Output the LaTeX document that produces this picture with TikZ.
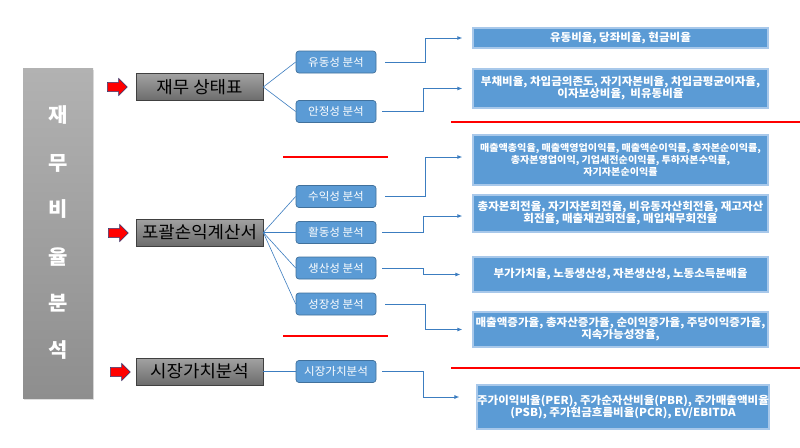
\documentclass[tikz,border=0pt]{standalone}
\usepackage{fontspec}
\setmainfont{Noto Sans CJK KR}[FakeStretch=1.05]
\usetikzlibrary{shapes.arrows,shadows,arrows.meta}
\definecolor{boxblue}{HTML}{5B9BD5}
\definecolor{boxedge}{HTML}{41719C}
\definecolor{lineblue}{HTML}{3C7DC0}
\definecolor{glow}{HTML}{A8C8EA}
\definecolor{arredge}{HTML}{2A3F7A}
\definecolor{bartop}{HTML}{B2B2B2}
\definecolor{barbot}{HTML}{8E8E8E}
\definecolor{gtop}{HTML}{A2A2A2}
\definecolor{gbot}{HTML}{6C6C6C}
\begin{document}
\begin{tikzpicture}[x=1pt,y=-1pt,
  bar/.style={draw=none,top color=bartop,bottom color=barbot,minimum width=70pt,minimum height=330pt,inner sep=0pt,
    drop shadow={opacity=0.25,shadow xshift=1pt,shadow yshift=-1.5pt}},
  barletter/.style={text=white,font=\fontsize{20}{22}\selectfont\bfseries,inner sep=0pt},
  redarrow/.style={single arrow,fill=red,draw=arredge,line width=0.5pt,minimum height=20pt,inner sep=4.3pt,
    single arrow head extend=4pt,shape border rotate=0},
  graybox/.style={draw=black!75,line width=0.6pt,top color=gtop,bottom color=gbot,minimum width=127pt,minimum height=27pt,
    inner sep=0pt,font=\fontsize{17}{19}\selectfont},
  subbox/.style={draw=boxedge,line width=0.7pt,fill=boxblue,rounded corners=3pt,minimum width=80pt,minimum height=22pt,
    inner sep=0pt,text=white,font=\fontsize{11}{12}\selectfont},
  resbox/.style={draw=glow,line width=1.2pt,fill=boxblue,minimum width=295pt,inner sep=0pt,text=white,align=center,
    font=\fontsize{11}{12}\selectfont\bfseries},
  thin/.style={draw=lineblue,line width=0.6pt},
  conn/.style={draw=lineblue,line width=1pt,-{Latex[length=5pt,width=4pt]}},
  redline/.style={draw=red,line width=2.2pt}
]
\useasboundingbox (0,0) rectangle (800,447);
\fill[white] (0,0) rectangle (800,447);

% left bar
\node[bar] (bar) at (58,233) {};
\node[barletter] (l1) at (58,115) {재};
\node[barletter] (l2) at (58,163) {무};
\node[barletter] (l3) at (58,209) {비};
\node[barletter] (l4) at (58,257) {율};
\node[barletter] (l5) at (58,303) {분};
\node[barletter] (l6) at (58,350) {석};

% red arrows
\node[redarrow] (a1) at (115,87) {};
\node[redarrow] (a2) at (116,233) {};
\node[redarrow] (a3) at (118,372) {};

% gray boxes
\node[graybox] (g1) at (199.5,87) {재무 상태표};
\node[graybox] (g2) at (199.5,232.5) {포괄손익계산서};
\node[graybox] (g3) at (199.5,371.5) {시장가치분석};

% sub boxes
\node[subbox] (b1) at (336,62) {유동성 분석};
\node[subbox] (b2) at (336,111.5) {안정성 분석};
\node[subbox] (b3) at (336,196.5) {수익성 분석};
\node[subbox] (b4) at (336,232.5) {활동성 분석};
\node[subbox] (b5) at (336,268) {생산성 분석};
\node[subbox] (b6) at (336,304) {성장성 분석};
\node[subbox] (b7) at (336,371.5) {시장가치분석};

% thin connectors
\draw[thin] (g1.east) -- (b1.west);
\draw[thin] (g1.east) -- (b2.west);
\draw[thin] (g2.east) -- (b3.west);
\draw[thin] (g2.east) -- (b4.west);
\draw[thin] (g2.east) -- (b5.west);
\draw[thin] (g2.east) -- (b6.west);
\draw[thin] (g3.east) -- (b7.west);

% result boxes
\node[resbox,minimum height=20pt] (r1) at (620.5,38) {유동비율, 당좌비율, 현금비율};
\node[resbox,minimum height=39pt] (r2) at (620.5,88.5) {부채비율, 차입금의존도, 자기자본비율, 차입금평균이자율,\\이자보상비율,\ \ 비유동비율};
\node[resbox,minimum height=50pt,font=\fontsize{9.6}{12}\selectfont\bfseries] (r3) at (620.5,160) {매출액총익율, 매출액영업이익률, 매출액순이익률, 총자본순이익률,\\총자본영업이익, 기업세전순이익률, 투하자본수익률,\\자기자본순이익률};
\node[resbox,minimum height=37pt] (r4) at (620.5,213.5) {총자본회전율, 자기자본회전율, 비유동자산회전율, 재고자산\\회전율, 매출채권회전율, 매입채무회전율};
\node[resbox,minimum height=35pt] (r5) at (620.5,274.5) {부가가치율, 노동생산성, 자본생산성, 노동소득분배율};
\node[resbox,minimum height=35pt] (r6) at (620.5,329.5) {매출액증가율, 총자산증가율, 순이익증가율, 주당이익증가율,\\지속가능성장율,};
\node[resbox,minimum height=44pt,minimum width=290pt] (r7) at (623,407) {주가이익비율(PER), 주가순자산비율(PBR), 주가매출액비율\\(PSB), 주가현금흐름비율(PCR), EV/EBITDA};

% elbow connectors
\coordinate (va) at (425,0);
\coordinate (vb) at (423,0);
\draw[conn,shorten <=9pt,shorten >=10pt] (b1.east) -- (b1.east -| va) |- (r1.west);
\draw[conn,shorten <=6pt,shorten >=10pt] (b2.east) -- (b2.east -| vb) |- (r2.west);
\draw[conn,shorten <=9pt,shorten >=10pt] (b3.east) -- (b3.east -| va) |- ([yshift=3pt]r3.west);
\draw[conn,shorten <=6pt,shorten >=10pt] (b4.east) -- (b4.east -| vb) |- ([yshift=-2.5pt]r4.west);
\draw[conn,shorten <=6pt,shorten >=12pt] (b5.east) -- (b5.east -| vb) |- (r5.west);
\draw[conn,shorten <=9pt,shorten >=10pt] (b6.east) -- (b6.east -| va) |- (r6.west);
\draw[conn,shorten <=6pt,shorten >=17pt] (b7.east) -- (b7.east -| vb) |- ([yshift=10pt]r7.west);

% red separator lines
\draw[redline] (283,157) -- (388,157);
\draw[redline] (283,336) -- (388,336);
\draw[redline] (451,122) -- (800,122);
\draw[redline] (451,368) -- (800,368);
\end{tikzpicture}
\end{document}
